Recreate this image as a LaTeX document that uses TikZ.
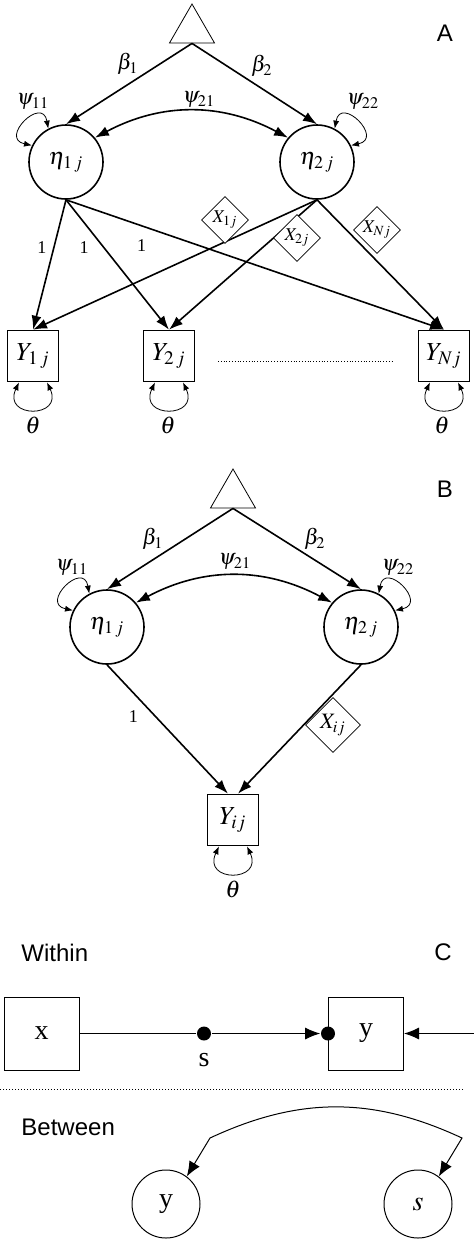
\documentclass[tikz,border=0pt]{standalone}
\usepackage{mathptmx}
\usepackage{fontspec}
\setmainfont{Liberation Serif}
\setsansfont{Liberation Sans}
\usetikzlibrary{arrows.meta,shapes.geometric}

\begin{document}
\begin{tikzpicture}[x=0.5pt,y=0.5pt,thick,
    latent/.style={circle,draw,minimum size=37pt,inner sep=0pt,font=\fontsize{12}{14}\selectfont},
    manifest/.style={rectangle,draw,minimum size=25.5pt,inner sep=0pt,font=\fontsize{13}{15}\selectfont},
    constant/.style={regular polygon,regular polygon sides=3,draw,thin,minimum size=26pt,inner sep=0pt},
    covariate/.style={diamond,draw,thin,fill=white,aspect=1,inner sep=0pt,minimum size=23.5pt,font=\fontsize{9}{10}\selectfont},
    regr/.style={-{Latex[length=7pt,width=5pt]}},
    covar/.style={{Latex[length=7pt,width=5pt]}-{Latex[length=7pt,width=5pt]}},
    resid/.style={thin,{Latex[length=4pt,width=3pt]}-{Latex[length=4pt,width=3pt]}},
    param/.style={font=\fontsize{11}{13}\selectfont},
    lab/.style={font=\fontsize{9}{10}\selectfont},
    panel/.style={font=\sffamily\fontsize{12}{14}\selectfont},
    boxC/.style={rectangle,draw,line width=0.5pt,minimum width=37.5pt,minimum height=36.5pt,font=\fontsize{14}{16}\selectfont},
    circC/.style={circle,draw,line width=0.5pt,minimum size=34pt,inner sep=0pt,font=\fontsize{14}{16}\selectfont},
    dot/.style={circle,fill=black,inner sep=0pt,minimum size=7pt},
    bigarrow/.style={line width=0.5pt,-{Latex[length=7.5pt,width=6pt]}}]
    \useasboundingbox (0,0) rectangle (474,-1244);

    % panel A
    \node[panel] (labA) at (445,-33) {A};
    \node[constant] (triA) at (192,-30) {};
    \node[latent] (e1A) at (66,-162) {$\eta_{1\,j}$};
    \node[latent] (e2A) at (317,-162) {$\eta_{2\,j}$};
    \node[manifest] (y1A) at (33,-356) {$Y_{1\,j}$};
    \node[manifest] (y2A) at (169,-356) {$Y_{2\,j}$};
    \node[manifest] (ynA) at (444,-356) {$Y_{Nj}$};
    \node[param] at (128,-64) {$\beta_1$};
    \node[param] at (262,-66) {$\beta_2$};
    \node[param] at (33,-102) {$\psi_{11}$};
    \node[param] at (199,-100) {$\psi_{21}$};
    \node[param] at (363,-102) {$\psi_{22}$};
    \draw[regr] (triA.south) -- (e1A.north);
    \draw[regr] (triA.south) -- (e2A.north);
    \draw[covar] (e1A.40) to[bend left=28] (e2A.140);
    \draw[resid] (e1A.118) .. controls +(100:34) and +(168:34) .. (e1A.154);
    \draw[resid] (e2A.62) .. controls +(80:34) and +(12:34) .. (e2A.26);
    \draw[regr] (e1A.south) -- (y1A.north) node[pos=.37,left,lab] {1};
    \draw[regr] (e1A.south) -- (y2A.north) node[pos=.37,left=4pt,lab] {1};
    \draw[regr] (e1A.south) -- (ynA.north) node[pos=.2,below=3pt,lab] {1};
    \draw[regr] (e2A.south) -- (y1A.north);
    \draw[regr] (e2A.south) -- (y2A.north);
    \draw[regr] (e2A.south) -- (ynA.north);
    \node[covariate] (x1A) at (225,-220) {$X_{1j}$};
    \node[covariate] (x2A) at (297,-238) {$X_{2j}$};
    \node[covariate] (xnA) at (377,-230) {$X_{Nj}$};
    \foreach \y/\x in {y1A/33,y2A/168,ynA/442}{
        \draw[resid] ([xshift=-7pt]\y.south) .. controls +(-115:40) and +(-65:40) .. ([xshift=7pt]\y.south);
        \node[font=\fontsize{12}{14}\selectfont] at (\x,-425) {$\theta$};
    }
    \draw[thin,densely dotted] (218,-361) -- (393,-361);

    % panel B
    \node[panel] (labB) at (445,-489) {B};
    \node[constant] (triB) at (233,-495) {};
    \node[latent] (e1B) at (107,-627) {$\eta_{1\,j}$};
    \node[latent] (e2B) at (361,-627) {$\eta_{2\,j}$};
    \node[manifest] (yB) at (233,-820) {$Y_{ij}$};
    \node[param] at (153,-539) {$\beta_1$};
    \node[param] at (315,-539) {$\beta_2$};
    \node[param] at (72,-568) {$\psi_{11}$};
    \node[param] at (235,-562) {$\psi_{21}$};
    \node[param] at (398,-568) {$\psi_{22}$};
    \draw[regr] (triB.south) -- (e1B.north);
    \draw[regr] (triB.south) -- (e2B.north);
    \draw[covar] (e1B.40) to[bend left=28] (e2B.140);
    \draw[resid] (e1B.118) .. controls +(100:34) and +(168:34) .. (e1B.154);
    \draw[resid] (e2B.62) .. controls +(80:34) and +(12:34) .. (e2B.26);
    \draw[regr] (e1B.south) -- ([xshift=-2.5pt]yB.north) node[pos=.4,left=5pt,lab] {1};
    \draw[regr] (e2B.south) -- ([xshift=2.5pt]yB.north);
    \node[covariate,minimum size=27.5pt,font=\fontsize{11}{12}\selectfont] (xB) at (333,-725) {$X_{ij}$};
    \draw[resid] ([xshift=-7pt]yB.south) .. controls +(-115:40) and +(-65:40) .. ([xshift=7pt]yB.south);
    \node[font=\fontsize{12}{14}\selectfont] at (233,-889) {$\theta$};

    % panel C
    \node[panel,anchor=west] (within) at (14,-953) {Within};
    \node[panel] (labC) at (443,-952) {C};
    \node[boxC] (xC) at (41.5,-1033.5) {x};
    \node[boxC] (yC) at (366,-1033.5) {y};
    \node[dot] (sdot) at (204,-1033.5) {};
    \node[dot] (ydot) at (yC.west) {};
    \node[font=\fontsize{14}{16}\selectfont] (slab) at (204,-1060) {s};
    \coordinate (inC) at (474,-1033.5);
    \draw[line width=0.5pt] (xC) -- (sdot);
    \draw[bigarrow] (sdot) -- (ydot);
    \draw[bigarrow] (inC) -- (yC);
    \draw[line width=0.5pt,densely dotted] (0,-1089) -- (465,-1089);
    \node[panel,anchor=west] (between) at (14,-1127) {Between};
    \node[circC] (cy) at (166,-1204) {y};
    \node[circC] (cs) at (418,-1204) {$s$};
    \coordinate (kL) at (210,-1138);
    \coordinate (kR) at (462,-1138);
    \draw[line width=0.5pt,{Latex[length=7.5pt,width=6pt]}-{Latex[length=7.5pt,width=6pt]}] (cy.53) -- (kL) to[bend left=25] (kR) -- (cs.53);
\end{tikzpicture}
\end{document}
